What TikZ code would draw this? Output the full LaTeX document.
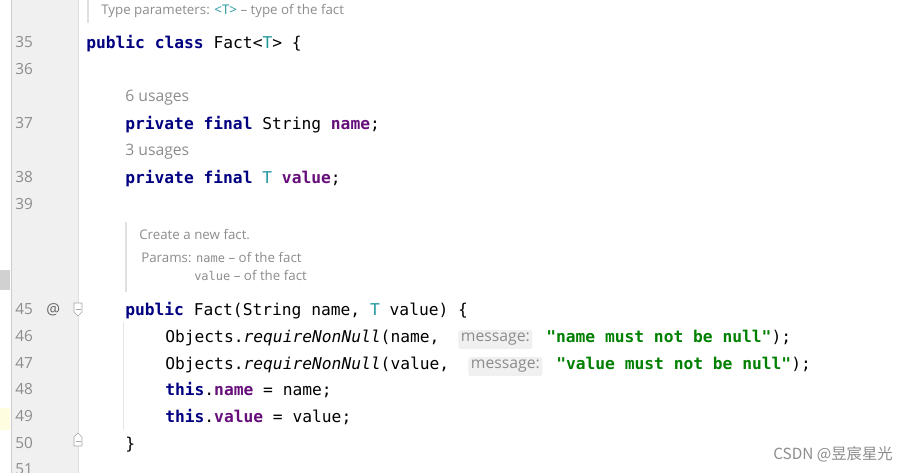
\documentclass[tikz,border=0pt]{standalone}
\usepackage{fontspec}
\setmonofont{DejaVu Sans Mono}
\setsansfont{Open Sans}
\newfontfamily\cjkfont{Noto Sans CJK SC}
\definecolor{kwblue}{HTML}{000080}
\definecolor{fieldpurple}{HTML}{660E7A}
\definecolor{typeteal}{HTML}{20999D}
\definecolor{strgreen}{HTML}{008000}
\definecolor{hintgray}{HTML}{8C8C8C}
\definecolor{guttergray}{HTML}{F0F0F0}
\newcommand{\kw}[1]{\textcolor{kwblue}{\bfseries #1}}
\newcommand{\fld}[1]{\textcolor{fieldpurple}{\bfseries #1}}
\newcommand{\tp}[1]{\textcolor{typeteal}{#1}}
\newcommand{\strlit}[1]{\textcolor{strgreen}{\bfseries #1}}
\tikzset{
  code/.style={anchor=base west,inner sep=0pt,font=\fontsize{12.2}{14}\ttfamily},
  lineno/.style={anchor=base west,inner sep=0pt,text=hintgray,font=\fontsize{11.5}{14}\sffamily},
  usage/.style={anchor=base west,inner sep=0pt,text=hintgray,font=\fontsize{11.8}{14}\sffamily},
  doc/.style={anchor=base west,inner sep=0pt,text=hintgray,font=\fontsize{10}{12}\sffamily},
  inlay/.style={anchor=base west,inner xsep=2pt,inner ysep=2.5pt,text=hintgray,fill=black!6,rounded corners=2pt,font=\fontsize{11.8}{14}\sffamily}
}
\begin{document}
\begin{tikzpicture}[x=0.75pt,y=-0.75pt]
\useasboundingbox (0,0) rectangle (908,473);
% gutter
\fill[guttergray] (11,0) rectangle (78,473);
\draw[black!20] (11,0) -- (11,473);
\draw[black!12] (78,0) -- (78,473);
\fill[black!18] (0,270) rectangle (10,290);
\fill[yellow!12] (0,408) rectangle (10,430);
% doc bars and indent guide
\draw[black!12,line width=1.5pt] (88,0) -- (88,23);
\draw[black!12,line width=1.5pt] (126,222) -- (126,292);
\draw[black!10] (123,322) -- (123,430);
% line numbers
\node[lineno] (n35) at (15,48) {35};
\node[lineno] (n36) at (15,75) {36};
\node[lineno] (n37) at (15,129) {37};
\node[lineno] (n38) at (15,183) {38};
\node[lineno] (n39) at (15,210) {39};
\node[lineno] (n45) at (15,315) {45};
\node[lineno] (n46) at (15,342) {46};
\node[lineno] (n47) at (15,369) {47};
\node[lineno] (n48) at (15,395) {48};
\node[lineno] (n49) at (15,422) {49};
\node[lineno] (n50) at (15,449) {50};
\node[lineno] (n51) at (15,475) {51};
\node[lineno,text=black!60] (at) at (46,315) {@};
% fold markers
\draw[black!35,fill=white] (74,303) -- (82,303) -- (82,312) -- (78,316) -- (74,312) -- cycle;
\draw[black!35] (75.5,309) -- (80.5,309);
\draw[black!35,fill=white] (74,446) -- (82,446) -- (82,437) -- (78,433) -- (74,437) -- cycle;
\draw[black!35] (75.5,441) -- (80.5,441);
% hints and docs
\node[doc] (tparam) at (101,15) {Type parameters: \tp{<T>} -- type of the fact};
\node[usage] (use6) at (125,102) {6 usages};
\node[usage] (use3) at (125,156) {3 usages};
\node[doc] (docnew) at (139,240) {Create a new fact.};
\node[doc] (docname) at (141,263) {Params: {\ttfamily\fontsize{9}{10}\selectfont name} -- of the fact};
\node[doc] (docvalue) at (194,281) {{\ttfamily\fontsize{9}{10}\selectfont value} -- of the fact};
% code
\node[code] (l35) at (86,49) {\kw{public} \kw{class} Fact<\tp{T}> \{};
\node[code] (l37) at (125,130) {\kw{private} \kw{final} String \fld{name};};
\node[code] (l38) at (125,184) {\kw{private} \kw{final} \tp{T} \fld{value};};
\node[code] (l45) at (125,316) {\kw{public} Fact(String name, \tp{T} value) \{};
\node[code] (l46) at (165,343) {Objects.\textit{requireNonNull}(name,};
\node[inlay] (h46) at (458,342) {message:};
\node[code] (s46) at (546,343) {\strlit{"name must not be null"});};
\node[code] (l47) at (165,370) {Objects.\textit{requireNonNull}(value,};
\node[inlay] (h47) at (468,369) {message:};
\node[code] (s47) at (556,370) {\strlit{"value must not be null"});};
\node[code] (l48) at (165,396) {\kw{this}.\fld{name} = name;};
\node[code] (l49) at (165,423) {\kw{this}.\fld{value} = value;};
\node[code] (l50) at (125,450) {\}};
\node[anchor=base east,inner sep=0pt,text=black!45,font=\fontsize{11.5}{14}\cjkfont] (mark) at (893,460) {CSDN @昱宸星光};
\end{tikzpicture}
\end{document}
